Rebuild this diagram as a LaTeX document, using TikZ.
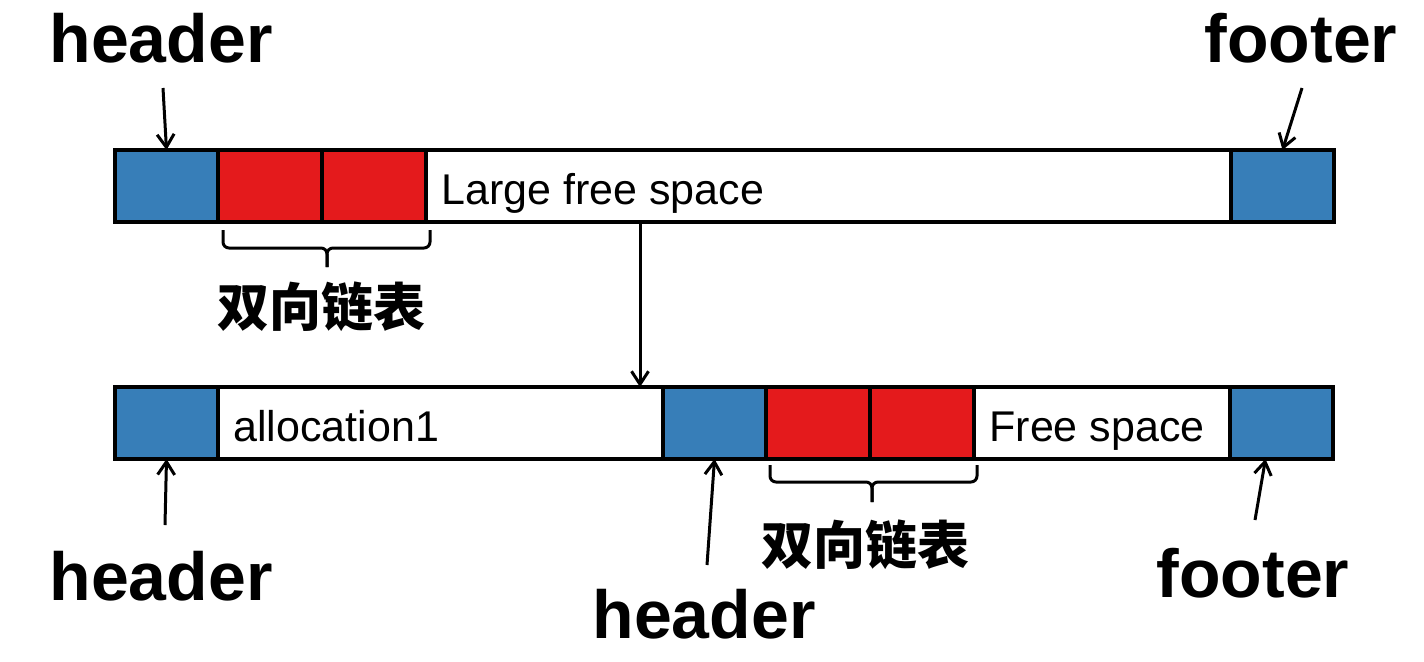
\documentclass[tikz,border=0pt]{standalone}
\usepackage{fontspec}
\setmainfont{Liberation Sans}
\newfontfamily\cjk{Noto Sans CJK SC}
\usetikzlibrary{positioning}
\usetikzlibrary{arrows.meta}
\definecolor{blu}{RGB}{55,126,184}
\definecolor{rosso}{RGB}{228,26,28}
\tikzset{
  heap/.style={
    cell/.style={rectangle, draw=black, line width=2pt, outer sep=0pt, inner sep=0pt, minimum height=36pt},
    hdr/.style={cell, fill=blu, minimum width=51.5pt},
    link/.style={cell, fill=rosso, minimum width=52pt},
    cell text/.style={anchor=west, inner xsep=7.5pt, inner ysep=0pt, text height=18pt, text depth=0pt, font=\fontsize{21.5}{24}\selectfont},
    free/.style n args={2}{cell, fill=white, minimum width=##1, label={[cell text]west:##2}},
    tag/.style={font=\fontsize{34}{38}\selectfont\bfseries, anchor=base, inner sep=0pt},
    cjk tag/.style={font=\fontsize{26}{30}\selectfont\cjk\bfseries, inner sep=0pt},
    pointer/.style={line width=1.5pt, -{Straight Barb[length=6.5pt,width=8.5pt]}},
    brace/.style={line width=1.5pt, rounded corners=3pt},
  }
}

\begin{document}
\begin{tikzpicture}[x=0.5pt, y=-0.5pt, heap]
    \useasboundingbox (0,0) rectangle (1424,661);

    % top block
    \node[hdr] (t1) at (166.5,186) {};
    \node[link, right=0pt of t1] (t2) {};
    \node[link, right=0pt of t2] (t3) {};
    \node[free={402.5pt}{Large free space}, right=0pt of t3] (t4) {};
    \node[hdr, right=0pt of t4] (t5) {};

    % bottom block
    \node[hdr] (b1) at (166.5,423) {};
    \node[free={222.5pt}{allocation1}, right=0pt of b1] (b2) {};
    \node[hdr, right=0pt of b2] (b3) {};
    \node[link, right=0pt of b3] (b4) {};
    \node[link, right=0pt of b4] (b5) {};
    \node[free={128pt}{Free space}, right=0pt of b5] (b6) {};
    \node[hdr, right=0pt of b6] (b7) {};

    % labels
    \node[tag] (lh1) at (161,62) {header};
    \node[tag] (lf1) at (1301,62) {footer};
    \node[cjk tag] (ll1) at (321,307) {双向链表};
    \node[tag] (lh2) at (161,600) {header};
    \node[tag] (lh3) at (704,638) {header};
    \node[cjk tag] (ll2) at (865,545) {双向链表};
    \node[tag] (lf2) at (1253,597) {footer};

    % pointers
    \coordinate (ph1) at (163,88);
    \coordinate (pf1) at (1302,88);
    \coordinate (pm) at (640,222);
    \coordinate (ph2) at (165,525);
    \coordinate (ph3) at (707,565);
    \coordinate (pf2) at (1255,520);
    \draw[pointer] (ph1) -- (t1.north);
    \draw[pointer] (pf1) -- (t5.north);
    \draw[pointer] (pm) -- (pm |- b2.north);
    \draw[pointer] (ph2) -- (b1.south);
    \draw[pointer] (ph3) -- (b3.south);
    \draw[pointer] (pf2) -- ([xshift=-8]b7.south);

    % braces
    \coordinate (bl1) at ([shift={(5,8)}]t2.south west);
    \coordinate (br1) at ([shift={(4,8)}]t3.south east);
    \coordinate (bm1) at ([shift={(5,26)}]t2.south east);
    \coordinate (bt1) at ([shift={(5,45)}]t2.south east);
    \draw[brace] (bl1) |- (bm1) -- (bt1);
    \draw[brace] (br1) |- (bm1) -- (bt1);
    \coordinate (bl2) at ([shift={(4,6)}]b4.south west);
    \coordinate (br2) at ([shift={(3,6)}]b5.south east);
    \coordinate (bm2) at ([shift={(2,23)}]b4.south east);
    \coordinate (bt2) at ([shift={(2,43)}]b4.south east);
    \draw[brace] (bl2) |- (bm2) -- (bt2);
    \draw[brace] (br2) |- (bm2) -- (bt2);
\end{tikzpicture}
\end{document}
